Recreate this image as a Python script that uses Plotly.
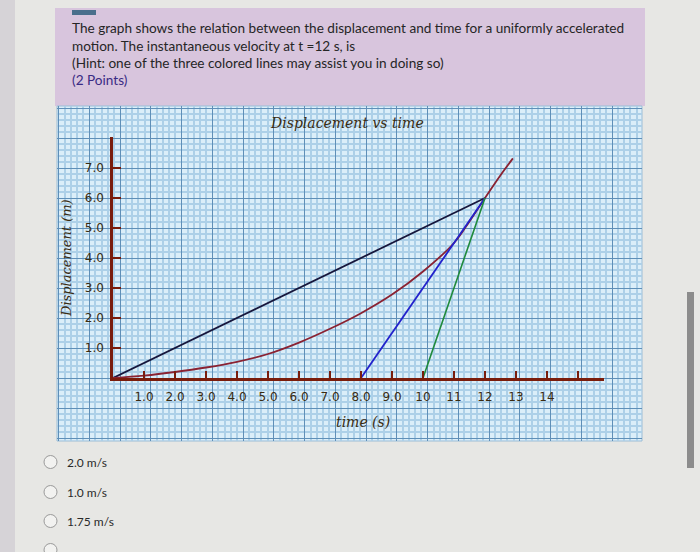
import plotly.graph_objects as go

# ---- data ----
curve_t = [0, 1, 2, 3, 4, 5, 6, 7, 8, 9, 10, 11, 11.5, 12, 12.5, 12.9]
curve_d = [0, 0.08, 0.2, 0.35, 0.54, 0.8, 1.18, 1.64, 2.16, 2.78, 3.55, 4.5, 5.22, 6.0, 6.76, 7.32]

black_t = [0, 12]
black_d = [0, 6]
blue_t = [8, 12]
blue_d = [0, 6]
green_t = [10, 12]
green_d = [0, 6]

x_tickvals = [1, 2, 3, 4, 5, 6, 7, 8, 9, 10, 11, 12, 13, 14, 15]
x_ticktext = ["1.0", "2.0", "3.0", "4.0", "5.0", "6.0", "7.0", "8.0", "9.0",
              "10", "11", "12", "13", "14", ""]
y_tickvals = [1, 2, 3, 4, 5, 6, 7]
y_ticktext = ["1.0", "2.0", "3.0", "4.0", "5.0", "6.0", "7.0"]

question = [
    "The graph shows the relation between the displacement and time for a uniformly accelerated",
    "motion. The instantaneous velocity at t =12 s, is",
    "(Hint: one of the three colored lines may assist you in doing so)",
]
points_text = "(2 Points)"
answers = ["2.0 m/s", "1.0 m/s", "1.75 m/s", ""]

W, H = 700, 552


def fx(px):
    return px / W


def fy(py):
    return 1 - py / H


# pixel mapping of the drawn axes: t=0 at x=113, 31 px per s; d=0 at y=378, 30 px per m
def t_at(px):
    return (px - 113) / 31


def d_at(py):
    return (378 - py) / 30


axis_col = "#7a1d0c"
label_col = "#3a2c12"

fig = go.Figure()

# empty trace so the graph-paper subplot is drawn
fig.add_trace(go.Scatter(x=[], y=[], xaxis="x", yaxis="y", showlegend=False))

fig.add_trace(go.Scatter(x=black_t, y=black_d, mode="lines", xaxis="x2", yaxis="y2",
                         line=dict(color="#16163c", width=1.8), showlegend=False))
fig.add_trace(go.Scatter(x=curve_t, y=curve_d, mode="lines", xaxis="x2", yaxis="y2",
                         line=dict(color="#8a2232", width=1.8, shape="spline", smoothing=1.0),
                         showlegend=False))
fig.add_trace(go.Scatter(x=blue_t, y=blue_d, mode="lines", xaxis="x2", yaxis="y2",
                         line=dict(color="#2222cc", width=1.8), showlegend=False))
fig.add_trace(go.Scatter(x=green_t, y=green_d, mode="lines", xaxis="x2", yaxis="y2",
                         line=dict(color="#1f8a3c", width=1.6), showlegend=False))

shapes = [
    # page pieces
    dict(type="rect", xref="paper", yref="paper", x0=0, x1=fx(15), y0=0, y1=1,
         fillcolor="#d6d3d7", line_width=0, layer="below"),
    dict(type="rect", xref="paper", yref="paper", x0=fx(55), x1=fx(645), y0=fy(106), y1=fy(8),
         fillcolor="#d8c5dd", line_width=0, layer="below"),
    dict(type="rect", xref="paper", yref="paper", x0=fx(72), x1=fx(96), y0=fy(15), y1=fy(10),
         fillcolor="#4a6f8c", line_width=0, layer="below"),
    # graph paper background
    dict(type="rect", xref="paper", yref="paper", x0=fx(57), x1=fx(642), y0=fy(441), y1=fy(106),
         fillcolor="#dbeef9", line=dict(color="#9bbdd6", width=1), layer="below"),
    # scrollbar
    dict(type="rect", xref="paper", yref="paper", x0=fx(687), x1=fx(694), y0=fy(468), y1=fy(292),
         fillcolor="#8c8c8c", line_width=0),
]

annotations = []
q_y = [28, 46, 63]
for line, py in zip(question, q_y):
    annotations.append(dict(text=line, x=fx(70), y=fy(py), xref="paper", yref="paper",
                            xanchor="left", yanchor="middle", showarrow=False,
                            font=dict(family="Lato", size=13.6, color="#262626")))
annotations.append(dict(text=points_text, x=fx(70), y=fy(80), xref="paper", yref="paper",
                        xanchor="left", yanchor="middle", showarrow=False,
                        font=dict(family="Lato", size=13.6, color="#3a2b84")))

# chart titles
annotations.append(dict(text="<i>Displacement vs time</i>", x=fx(347), y=fy(123),
                        xref="paper", yref="paper", showarrow=False,
                        xanchor="center", yanchor="middle",
                        font=dict(family="DejaVu Serif", size=14, color=label_col)))
annotations.append(dict(text="<i>time (s)</i>", x=fx(363), y=fy(422),
                        xref="paper", yref="paper", showarrow=False,
                        xanchor="center", yanchor="middle",
                        font=dict(family="DejaVu Serif", size=14, color=label_col)))
annotations.append(dict(text="<i>Displacement (m)</i>", x=fx(66), y=fy(258), textangle=-90,
                        xref="paper", yref="paper", showarrow=False,
                        xanchor="center", yanchor="middle",
                        font=dict(family="DejaVu Serif", size=13, color=label_col)))

# answer options
a_y = [462, 492, 521, 550]
for txt, py in zip(answers, a_y):
    shapes.append(dict(type="circle", xref="paper", yref="paper",
                       x0=fx(44), x1=fx(57), y0=fy(py + 6.5), y1=fy(py - 6.5),
                       fillcolor="#f2f2f0", line=dict(color="#9a9a9a", width=1)))
    if txt:
        annotations.append(dict(text=txt, x=fx(65), y=fy(py), xref="paper", yref="paper",
                                xanchor="left", yanchor="middle", showarrow=False,
                                font=dict(family="Lato", size=12, color="#2a2a2a")))

fig.update_layout(
    width=W, height=H,
    margin=dict(l=0, r=0, t=0, b=0),
    paper_bgcolor="#e7e7e4",
    plot_bgcolor="rgba(0,0,0,0)",
    shapes=shapes,
    annotations=annotations,
    # graph-paper grid
    xaxis=dict(domain=[fx(57), fx(642)], range=[t_at(57), t_at(642)],
               showticklabels=False, ticks="", zeroline=False, fixedrange=True,
               showgrid=True, gridcolor="#5f8fb8", gridwidth=1, tick0=0.226, dtick=0.992,
               minor=dict(tick0=0.226, dtick=0.992 / 5, showgrid=True,
                          gridcolor="#add0e8", gridwidth=1.5)),
    yaxis=dict(domain=[fy(441), fy(106)], range=[d_at(441), d_at(106)],
               showticklabels=False, ticks="", zeroline=False, fixedrange=True,
               showgrid=True, gridcolor="#5f8fb8", gridwidth=1, tick0=0, dtick=1,
               minor=dict(tick0=0, dtick=0.2, showgrid=True,
                          gridcolor="#add0e8", gridwidth=1.5)),
    # data axes
    xaxis2=dict(domain=[fx(113), fx(604)], range=[0, t_at(604)], anchor="y2",
                showline=True, linecolor=axis_col, linewidth=2.5, showgrid=False,
                zeroline=False, ticks="inside", ticklen=7, tickwidth=2, tickcolor=axis_col,
                tickvals=x_tickvals, ticktext=x_ticktext, ticklabelstandoff=6,
                tickfont=dict(family="DejaVu Sans", size=12, color=label_col)),
    yaxis2=dict(domain=[fy(378), fy(137)], range=[0, d_at(137)], anchor="x2",
                showline=True, linecolor=axis_col, linewidth=2.5, showgrid=False,
                zeroline=False, ticks="inside", ticklen=8, tickwidth=2, tickcolor=axis_col,
                tickvals=y_tickvals, ticktext=y_ticktext, ticklabelstandoff=4,
                tickfont=dict(family="DejaVu Sans", size=12, color=label_col)),
)

# drop the default 8px body margin so the figure fills the window
fig.write_html("out.html", config={"displayModeBar": False},
               post_script="document.body.style.margin='0';")
